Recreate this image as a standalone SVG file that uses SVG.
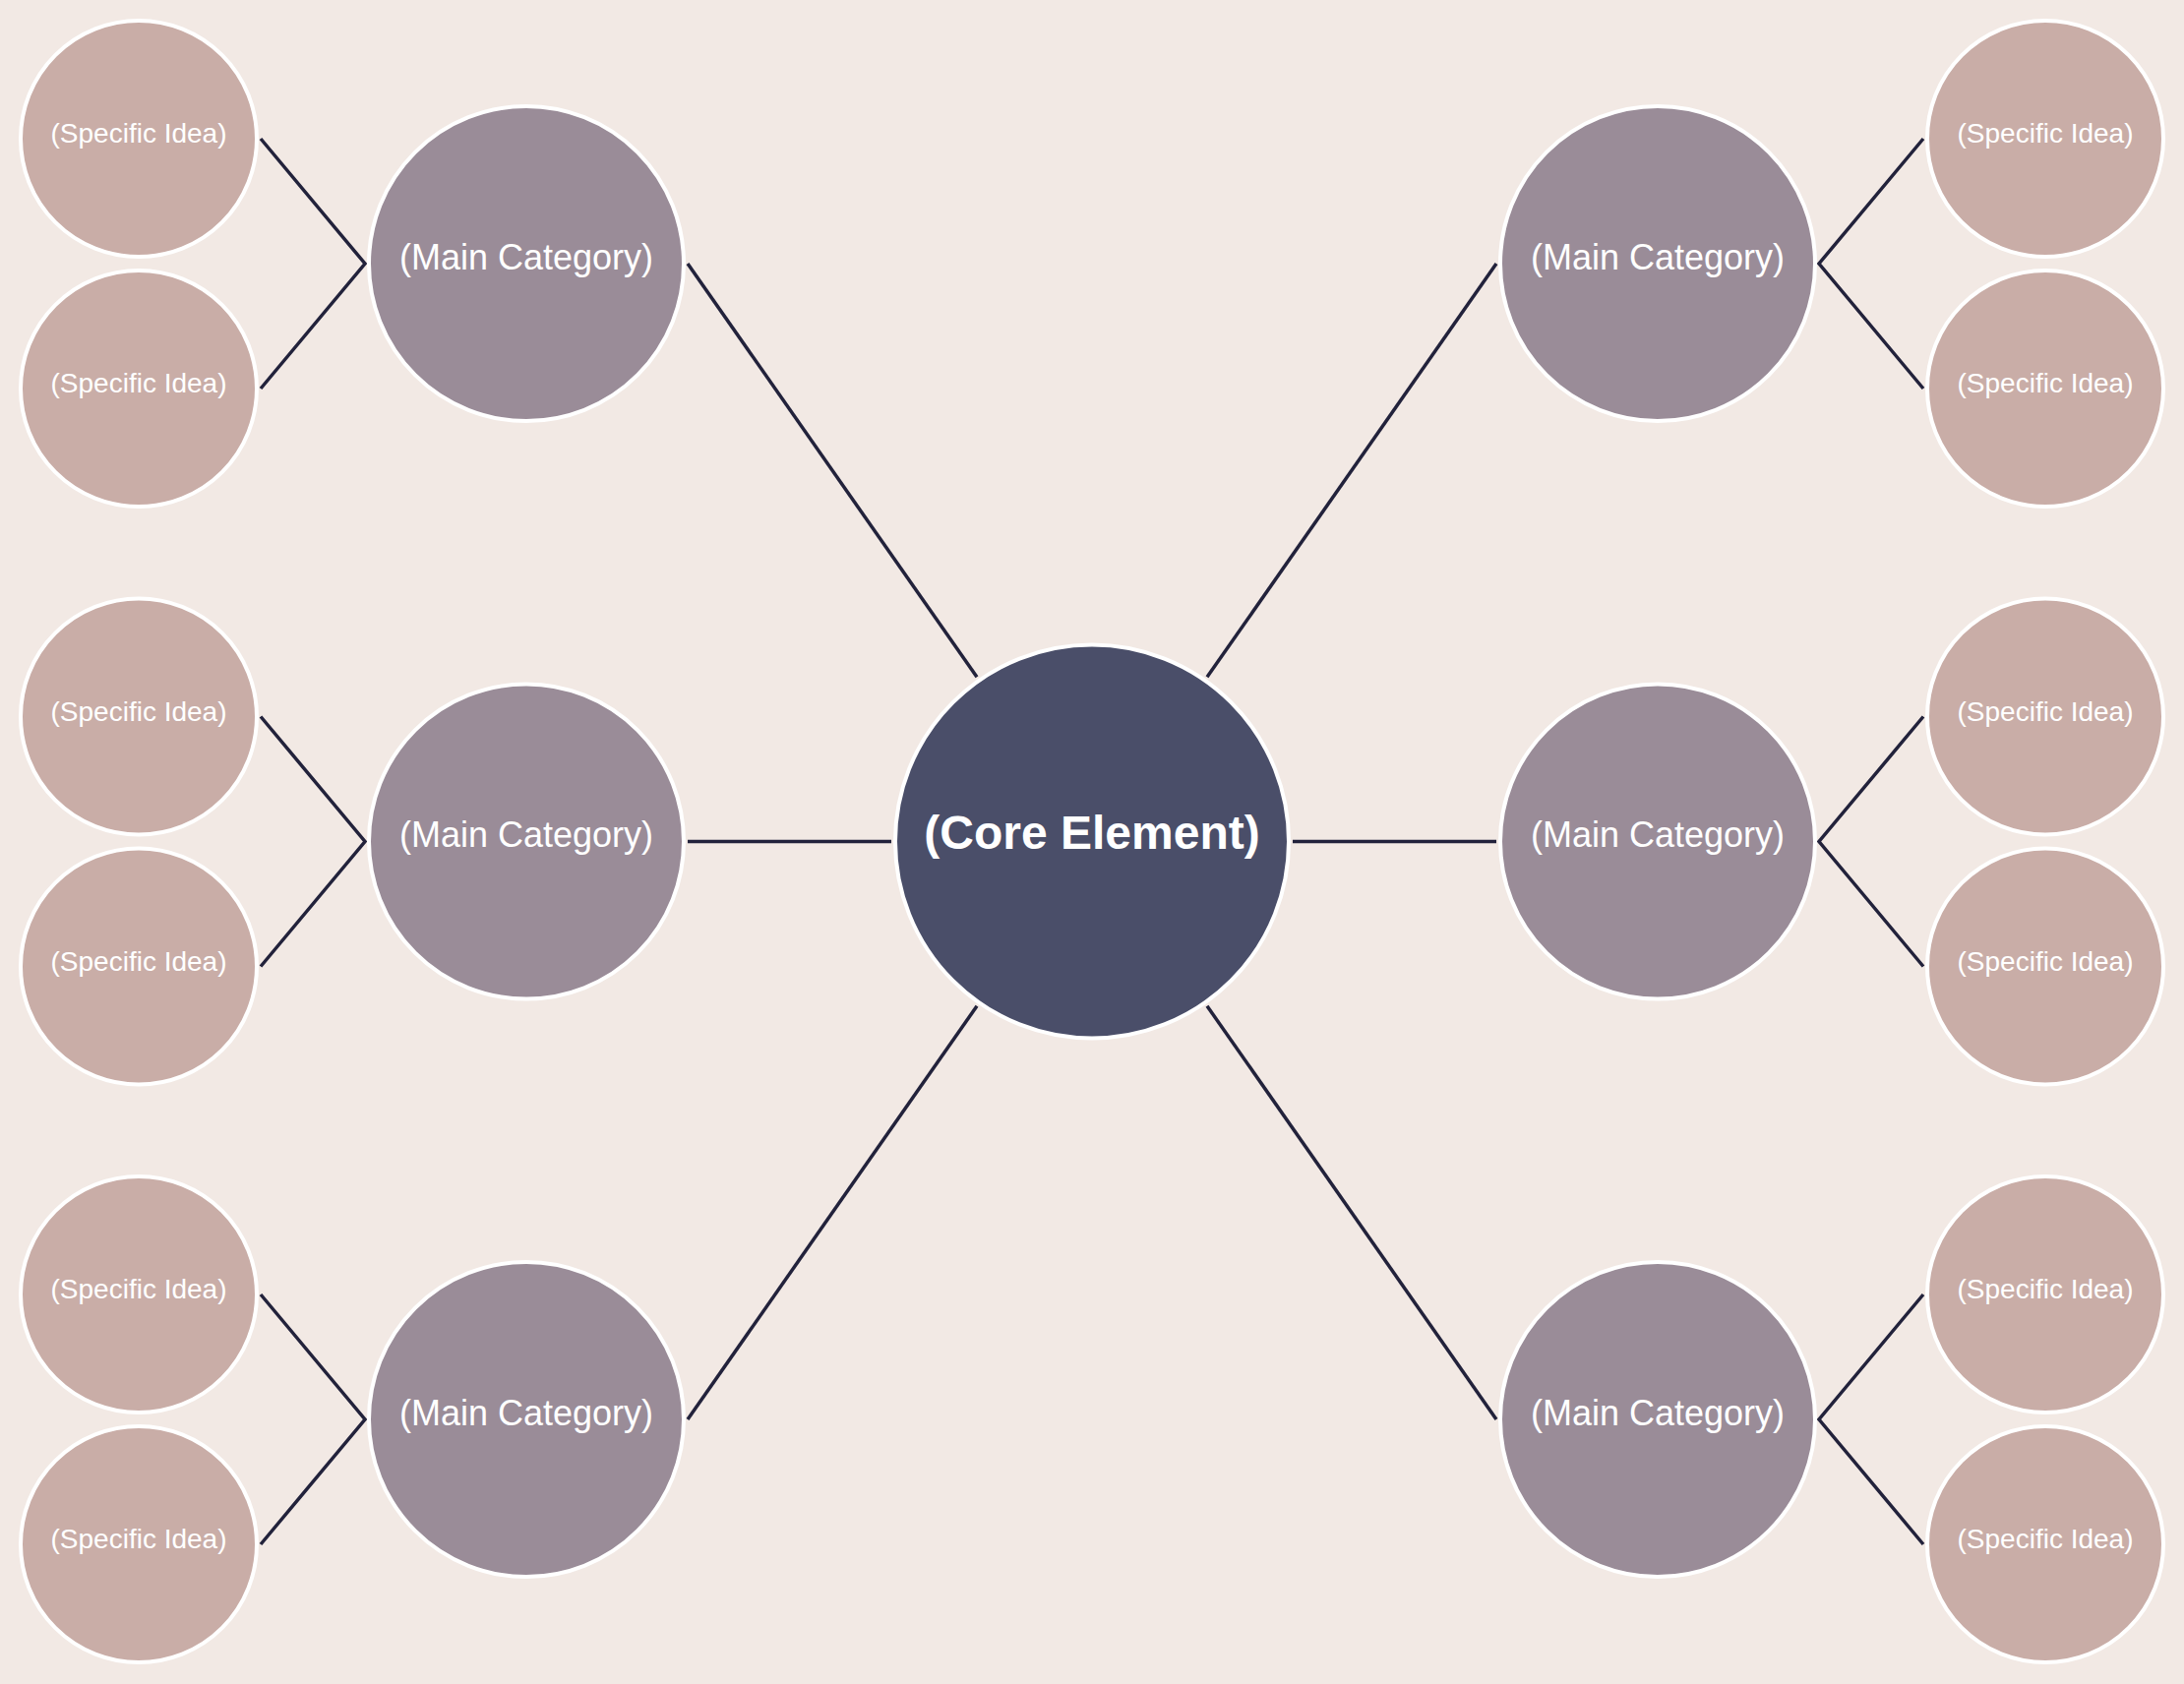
<svg xmlns="http://www.w3.org/2000/svg" width="2220" height="1712" viewBox="0 0 2220 1712">
<style>
.bg{fill:#f2e9e4}
.edge{stroke:#22223b;stroke-width:3.5;fill:none;stroke-linecap:butt}
.core{fill:#4a4e69;stroke:#ffffff;stroke-width:4}
.main{fill:#9a8c98;stroke:#ffffff;stroke-width:4}
.idea{fill:#c9ada7;stroke:#ffffff;stroke-width:4}
text{font-family:"Liberation Sans",Arial,sans-serif;fill:#ffffff;text-anchor:middle}
.tcore{font-size:48px;font-weight:bold}
.tmain{font-size:36px}
.tidea{font-size:28px}
</style>
<rect class="bg" x="0" y="0" width="2220" height="1712"/>
<g id="connectors">
<line class="edge" x1="699" y1="268" x2="993" y2="688.3"/>
<line class="edge" x1="699" y1="855.5" x2="906" y2="855.5"/>
<line class="edge" x1="699" y1="1443" x2="993" y2="1022.7"/>
<line class="edge" x1="1521" y1="268" x2="1227" y2="688.3"/>
<line class="edge" x1="1521" y1="855.5" x2="1314" y2="855.5"/>
<line class="edge" x1="1521" y1="1443" x2="1227" y2="1022.7"/>
<polyline class="edge" points="265,141 371,268 265,395"/>
<polyline class="edge" points="265,728.5 371,855.5 265,982.5"/>
<polyline class="edge" points="265,1316 371,1443 265,1570"/>
<polyline class="edge" points="1955,141 1849,268 1955,395"/>
<polyline class="edge" points="1955,728.5 1849,855.5 1955,982.5"/>
<polyline class="edge" points="1955,1316 1849,1443 1955,1570"/>
</g>
<g id="core"><circle class="core" cx="1110" cy="855.5" r="200"/><text class="tcore" x="1110" y="863">(Core Element)</text></g>
<g id="main-l1"><circle class="main" cx="535" cy="268" r="160"/><text class="tmain" x="535" y="273.5">(Main Category)</text></g>
<g id="main-l2"><circle class="main" cx="535" cy="855.5" r="160"/><text class="tmain" x="535" y="861">(Main Category)</text></g>
<g id="main-l3"><circle class="main" cx="535" cy="1443" r="160"/><text class="tmain" x="535" y="1448.5">(Main Category)</text></g>
<g id="main-r1"><circle class="main" cx="1685" cy="268" r="160"/><text class="tmain" x="1685" y="273.5">(Main Category)</text></g>
<g id="main-r2"><circle class="main" cx="1685" cy="855.5" r="160"/><text class="tmain" x="1685" y="861">(Main Category)</text></g>
<g id="main-r3"><circle class="main" cx="1685" cy="1443" r="160"/><text class="tmain" x="1685" y="1448.5">(Main Category)</text></g>
<g id="idea-l1a"><circle class="idea" cx="141" cy="141" r="120"/><text class="tidea" x="141" y="145">(Specific Idea)</text></g>
<g id="idea-l1b"><circle class="idea" cx="141" cy="395" r="120"/><text class="tidea" x="141" y="399">(Specific Idea)</text></g>
<g id="idea-l2a"><circle class="idea" cx="141" cy="728.5" r="120"/><text class="tidea" x="141" y="732.5">(Specific Idea)</text></g>
<g id="idea-l2b"><circle class="idea" cx="141" cy="982.5" r="120"/><text class="tidea" x="141" y="986.5">(Specific Idea)</text></g>
<g id="idea-l3a"><circle class="idea" cx="141" cy="1316" r="120"/><text class="tidea" x="141" y="1320">(Specific Idea)</text></g>
<g id="idea-l3b"><circle class="idea" cx="141" cy="1570" r="120"/><text class="tidea" x="141" y="1574">(Specific Idea)</text></g>
<g id="idea-r1a"><circle class="idea" cx="2079" cy="141" r="120"/><text class="tidea" x="2079" y="145">(Specific Idea)</text></g>
<g id="idea-r1b"><circle class="idea" cx="2079" cy="395" r="120"/><text class="tidea" x="2079" y="399">(Specific Idea)</text></g>
<g id="idea-r2a"><circle class="idea" cx="2079" cy="728.5" r="120"/><text class="tidea" x="2079" y="732.5">(Specific Idea)</text></g>
<g id="idea-r2b"><circle class="idea" cx="2079" cy="982.5" r="120"/><text class="tidea" x="2079" y="986.5">(Specific Idea)</text></g>
<g id="idea-r3a"><circle class="idea" cx="2079" cy="1316" r="120"/><text class="tidea" x="2079" y="1320">(Specific Idea)</text></g>
<g id="idea-r3b"><circle class="idea" cx="2079" cy="1570" r="120"/><text class="tidea" x="2079" y="1574">(Specific Idea)</text></g>
</svg>
